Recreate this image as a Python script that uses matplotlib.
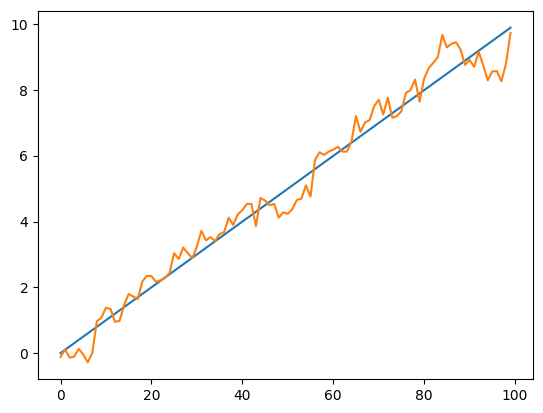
import numpy as np
import matplotlib
matplotlib.use('Agg')
import matplotlib.pyplot as plt

# straight reference line: 0..99 scaled by 0.1
x = np.arange(100)
trend = x / 10

# noisy series
noisy = [
    -0.12, 0.11, -0.14, -0.11, 0.13, -0.04, -0.28, 0.01, 0.97, 1.08,
    1.38, 1.34, 0.95, 0.98, 1.47, 1.80, 1.72, 1.64, 2.18, 2.35,
    2.34, 2.17, 2.21, 2.29, 2.44, 3.04, 2.86, 3.21, 3.04, 2.89,
    3.24, 3.72, 3.43, 3.53, 3.41, 3.62, 3.68, 4.12, 3.90, 4.22,
    4.35, 4.54, 4.54, 3.86, 4.72, 4.64, 4.50, 4.54, 4.12, 4.28,
    4.24, 4.38, 4.66, 4.70, 5.10, 4.76, 5.88, 6.11, 6.03, 6.13,
    6.19, 6.28, 6.13, 6.13, 6.43, 7.21, 6.73, 7.02, 7.09, 7.51,
    7.71, 7.26, 7.77, 7.16, 7.21, 7.36, 7.92, 8.00, 8.32, 7.65,
    8.35, 8.67, 8.83, 9.00, 9.68, 9.30, 9.41, 9.46, 9.24, 8.77,
    8.92, 8.71, 9.17, 8.75, 8.30, 8.57, 8.58, 8.27, 8.80, 9.74,
]

fig = plt.figure(figsize=(5.43, 4.13), dpi=100)
ax = fig.add_axes([38 / 543, 34 / 413, 495 / 543, 368 / 413])
ax.plot(x, trend)
ax.plot(x, noisy)

fig.savefig('out.png', dpi=100)
